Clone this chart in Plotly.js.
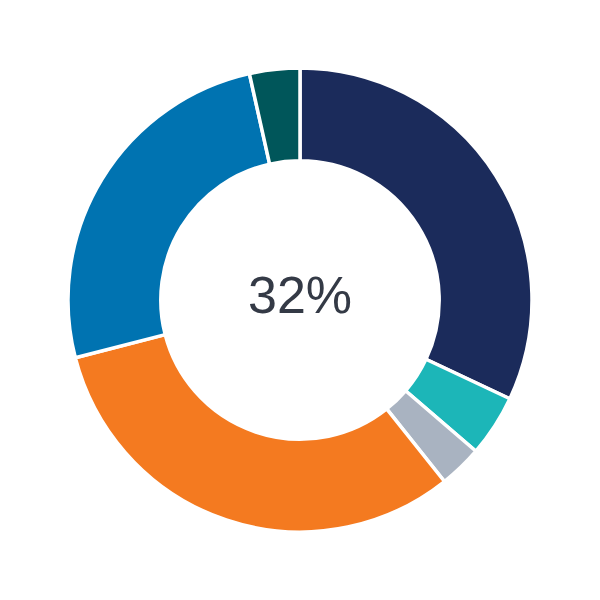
<!DOCTYPE html>
<html>
<head>
<meta charset="utf-8">
<script src="https://cdn.plot.ly/plotly-3.0.1.min.js"></script>
<style>html,body{margin:0;padding:0;background:#fff;}#chart{width:600px;height:600px;}</style>
</head>
<body>
<div id="chart"></div>
<script>
const categories = ["A", "B", "C", "D", "E", "F"];
const values = [32, 4.3, 3, 31.7, 25.5, 3.5];
const colors = ["#1b2b5b", "#1cb6b8", "#a9b3c1", "#f47a20", "#0073b1", "#00565a"];
const centerLabel = "32%";

const lo = 68/600, hi = 532/600;
Plotly.newPlot("chart", [{
  type: "pie",
  labels: categories,
  values: values,
  hole: 0.6,
  sort: false,
  direction: "clockwise",
  rotation: 0,
  textinfo: "none",
  hoverinfo: "none",
  marker: {colors: colors, line: {color: "#ffffff", width: 3.5}},
  domain: {x: [lo, hi], y: [lo, hi]}
}], {
  width: 600, height: 600,
  margin: {l: 0, r: 0, t: 0, b: 0},
  showlegend: false,
  paper_bgcolor: "#ffffff",
  annotations: [{
    text: centerLabel, x: 0.5, y: 0.5, xref: "paper", yref: "paper", yshift: 5,
    showarrow: false, font: {family: "Liberation Sans, Arial, sans-serif", size: 52, color: "#343a46"}
  }]
}, {staticPlot: true});
</script>
</body>
</html>
